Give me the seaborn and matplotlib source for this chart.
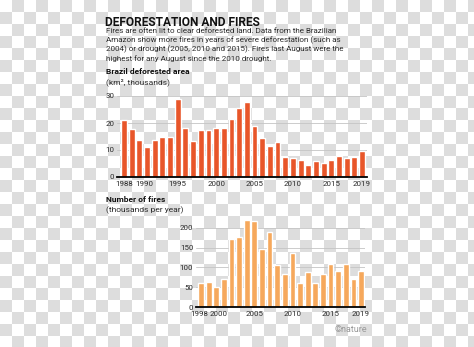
import numpy as np
import pandas as pd
import seaborn as sns
import matplotlib.pyplot as plt

# Brazilian Amazon deforested area (km2, thousands)
defor_years = list(range(1988, 2020))
defor_area = [21.05, 17.77, 13.73, 11.03, 13.79, 14.90, 14.90, 29.06, 18.16, 13.23,
              17.38, 17.26, 18.23, 18.17, 21.65, 25.40, 27.77, 19.01, 14.29, 11.65,
              12.91, 7.46, 7.00, 6.42, 4.57, 5.89, 5.01, 6.21, 7.89, 6.95, 7.54, 9.76]

# number of fires (thousands per year)
fire_years = list(range(1998, 2020))
fire_count = [61, 64, 50, 71, 172, 176, 221, 217, 147, 190, 106,
              83, 137, 60, 89, 60, 84, 109, 90, 109, 70, 91]

defor_ticks = [1988, 1990, 1995, 2000, 2005, 2010, 2015, 2019]
fire_ticks = [1998, 2000, 2005, 2010, 2015, 2019]

W, H = 474, 347
sns.set_theme(style="white")
plt.rcParams["font.family"] = ["Roboto", "DejaVu Sans"]

fig = plt.figure(figsize=(W / 100, H / 100), dpi=100)

# checkerboard background, 12px squares
bg = fig.add_axes([0, 0, 1, 1], zorder=-5)
nx, ny = int(np.ceil(W / 12)), int(np.ceil(H / 12))
checker = (np.add.outer(np.arange(ny), np.arange(nx)) % 2).astype(float)
bg.imshow(checker, cmap="gray_r", vmin=0, vmax=7.5, extent=(0, nx * 12, ny * 12, 0),
          interpolation="nearest", aspect="auto")
bg.set_xlim(0, W)
bg.set_ylim(H, 0)
bg.axis("off")

dark = "#2b2b2b"


def px(x, y):
    return x / W, 1 - y / H


def axes_px(left, top, right, bottom):
    return fig.add_axes([left / W, 1 - bottom / H, (right - left) / W, (bottom - top) / H])


def style_ax(ax, years, ticks, nudge, ymax, yticks, xlim):
    ax.set_facecolor("none")
    ax.set_xlim(*xlim)
    ax.set_ylim(0, ymax)
    ax.set_yticks(yticks)
    ax.set_yticklabels([str(t) for t in yticks])
    # labels sit under their bars, a few crowded ones nudged right
    ax.set_xticks([years.index(t) + nudge.get(t, 0) for t in ticks])
    ax.set_xticklabels([str(t) for t in ticks])
    ax.grid(axis="y", color="#c4c4c4", lw=0.6)
    ax.set_axisbelow(True)
    for s in ["top", "right", "left"]:
        ax.spines[s].set_visible(False)
    ax.spines["bottom"].set_color("black")
    ax.spines["bottom"].set_linewidth(1.3)
    ax.tick_params(axis="x", length=0, pad=3, labelsize=5.7, colors=dark)
    ax.tick_params(axis="y", length=0, pad=2, labelsize=5.7, colors=dark)
    ax.set_xlabel("")
    ax.set_ylabel("")


# top chart
ax1 = axes_px(117, 96, 367, 177)
sns.barplot(x=defor_years, y=defor_area, color="#e8562a", saturation=1, width=0.76, ax=ax1)
style_ax(ax1, defor_years, defor_ticks, {1990: 0.65}, 30, [0, 10, 20, 30], (-0.91, 31.65))

# bottom chart
ax2 = axes_px(196, 218, 365, 307)
sns.barplot(x=fire_years, y=fire_count, color="#f6a85c", saturation=1, width=0.76, ax=ax2)
style_ax(ax2, fire_years, fire_ticks, {1998: -0.2, 2000: 0.3}, 225, [0, 50, 100, 150, 200],
         (-0.66, 21.52))

# texts
fig.text(*px(105, 26), "DEFORESTATION AND FIRES", fontsize=8.6, fontweight="bold",
         color="#111111", va="baseline")
body = ("Fires are often lit to clear deforested land. Data from the Brazilian\n"
        "Amazon show more fires in years of severe deforestation (such as\n"
        "2004) or drought (2005, 2010 and 2015). Fires last August were the\n"
        "highest for any August since the 2010 drought.")
fig.text(*px(106, 28), body, fontsize=5.8, color=dark, va="top", linespacing=1.32)

fig.text(*px(106, 72), "Brazil deforested area", fontsize=6.0, fontweight="bold",
         color="#111111", va="center")
fig.text(*px(106, 82), "(km², thousands)", fontsize=6.0, color=dark, va="center")
fig.text(*px(106, 200), "Number of fires", fontsize=6.0, fontweight="bold",
         color="#111111", va="center")
fig.text(*px(106, 210), "(thousands per year)", fontsize=6.0, color=dark, va="center")
fig.text(*px(335, 329), "©nature", fontsize=6.5, color="#9a9a9a", va="center")

fig.savefig("out.png", dpi=100)
